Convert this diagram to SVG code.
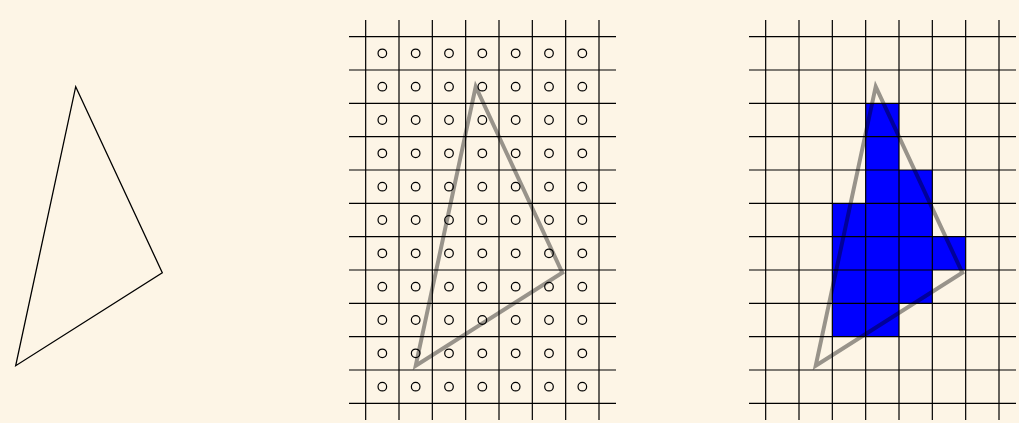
<svg xmlns="http://www.w3.org/2000/svg" xmlns:xlink="http://www.w3.org/1999/xlink" width="1019" height="423" viewBox="0 0 1019 423">
<style>
.grid{fill:none;stroke:#000;stroke-width:1.2}
.tri{fill:none;stroke:#000;stroke-width:1.3;stroke-linejoin:miter}
.ghost{fill:none;stroke:#000;stroke-opacity:0.4;stroke-width:4;stroke-linejoin:miter}
.dot{fill:none;stroke:#000;stroke-width:1.2}
.cov{fill:#0000ff;stroke:none}
</style>
<defs>
<path id="gridpath" d="M349 36.67H616M349 70H616M349 103.33H616M349 136.67H616M349 170H616M349 203.33H616M349 236.67H616M349 270H616M349 303.33H616M349 336.67H616M349 370H616M349 403.33H616M365.67 20V420M399 20V420M432.33 20V420M465.67 20V420M499 20V420M532.33 20V420M565.67 20V420M599 20V420"/>
<g id="row" class="dot">
<circle cx="382.33" cy="0" r="4.3"/><circle cx="415.67" cy="0" r="4.3"/><circle cx="449" cy="0" r="4.3"/><circle cx="482.33" cy="0" r="4.3"/><circle cx="515.67" cy="0" r="4.3"/><circle cx="549" cy="0" r="4.3"/><circle cx="582.33" cy="0" r="4.3"/>
</g>
<polygon id="triangle" points="75.7,86.7 162.3,272.7 15.7,365.7"/>
</defs>
<rect width="1019" height="423" fill="#fdf5e6"/>
<g id="panel-triangle">
<use href="#triangle" class="tri"/>
</g>
<g id="panel-samples">
<use href="#gridpath" class="grid"/>
<g id="sample-points">
<use href="#row" y="53.33"/><use href="#row" y="86.67"/><use href="#row" y="120"/><use href="#row" y="153.33"/><use href="#row" y="186.67"/><use href="#row" y="220"/><use href="#row" y="253.33"/><use href="#row" y="286.67"/><use href="#row" y="320"/><use href="#row" y="353.33"/><use href="#row" y="386.67"/>
</g>
<use href="#triangle" class="ghost" x="400"/>
</g>
<g id="panel-raster">
<path class="cov" d="M865.67 103.33H899V170H932.33V236.67H965.67V270H932.33V303.33H899V336.67H832.33V203.33H865.67Z"/>
<use href="#gridpath" class="grid" x="400"/>
<use href="#triangle" class="ghost" x="800"/>
</g>
</svg>
